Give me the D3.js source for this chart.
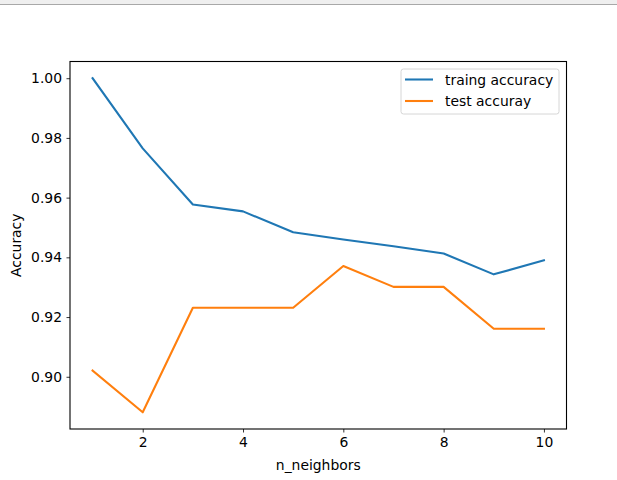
<!DOCTYPE html>
<html><head><meta charset="utf-8">
<script src="https://cdn.jsdelivr.net/npm/d3@7"></script>
<style>body{margin:0;background:#fff;}svg{display:block;}</style>
</head><body>
<script>
const neighbors = [1,2,3,4,5,6,7,8,9,10];
const trainAcc = [1.0, 0.9765, 0.9577, 0.9554, 0.9484, 0.9460, 0.9437, 0.9413, 0.9343, 0.9390];
const testAcc  = [0.9021, 0.8881, 0.9231, 0.9231, 0.9231, 0.9371, 0.9301, 0.9301, 0.9161, 0.9161];
const xTicks = [2,4,6,8,10];
const yTicks = [0.90,0.92,0.94,0.96,0.98,1.00];
const seriesNames = ["traing accuracy","test accuray"];
const colors = ["#1f77b4","#ff7f0e"];

const W=617,H=480;
const svg=d3.select("body").append("svg").attr("width",W).attr("height",H);
svg.append("rect").attr("width",W).attr("height",4).attr("fill","#efefef");
svg.append("line").attr("x1",0).attr("x2",W).attr("y1",4.5).attr("y2",4.5).attr("stroke","#a8a8a8");

const L=70,R=566.5,T=61.5,B=429;
const all=trainAcc.concat(testAcc);
const ymin=d3.min(all),ymax=d3.max(all),yr=ymax-ymin;
const x=d3.scaleLinear().domain([1-0.45,10+0.45]).range([L,R]);
const y=d3.scaleLinear().domain([ymin-0.05*yr,ymax+0.05*yr]).range([B,T]);

const font="DejaVu Sans, sans-serif";
const xAxis=svg.append("g").attr("transform",`translate(0,${B})`)
  .call(d3.axisBottom(x).tickValues(xTicks).tickFormat(d3.format("d")).tickSize(3.5).tickPadding(4.5));
const yAxis=svg.append("g").attr("transform",`translate(${L},0)`)
  .call(d3.axisLeft(y).tickValues(yTicks).tickFormat(d3.format(".2f")).tickSize(3.5).tickPadding(4.5));
[xAxis,yAxis].forEach(g=>{
  g.select(".domain").remove();
  g.selectAll("line").attr("stroke","#000").attr("stroke-width",0.8);
  g.selectAll("text").attr("font-family",font).attr("font-size","13.9px").attr("fill","#000");
});

const line=d3.line().x((d,i)=>x(neighbors[i])).y(d=>y(d));
[trainAcc,testAcc].forEach((s,k)=>{
  svg.append("path").datum(s).attr("d",line).attr("fill","none")
    .attr("stroke",colors[k]).attr("stroke-width",2.08).attr("stroke-linejoin","round").attr("stroke-linecap","square");
});

svg.append("rect").attr("x",L).attr("y",T).attr("width",R-L).attr("height",B-T)
  .attr("fill","none").attr("stroke","#000").attr("stroke-width",1.1);

svg.append("text").attr("x",(L+R)/2).attr("y",470).attr("text-anchor","middle")
  .attr("font-family",font).attr("font-size","13.9px").text("n_neighbors");
svg.append("text").attr("transform",`translate(21,${(T+B)/2}) rotate(-90)`).attr("text-anchor","middle")
  .attr("font-family",font).attr("font-size","13.9px").text("Accuracy");

const lg=svg.append("g");
lg.append("rect").attr("x",401).attr("y",69).attr("width",158).attr("height",45).attr("rx",2.5)
  .attr("fill","#fff").attr("fill-opacity",0.8).attr("stroke","#d6d6d6").attr("stroke-width",1);
seriesNames.forEach((n,k)=>{
  const yy=79.5+k*21.5;
  lg.append("line").attr("x1",405).attr("x2",433).attr("y1",yy).attr("y2",yy).attr("stroke",colors[k]).attr("stroke-width",2.08);
  lg.append("text").attr("x",445).attr("y",yy+5).attr("font-family",font).attr("font-size","13.9px").text(n);
});
</script>
</body></html>
